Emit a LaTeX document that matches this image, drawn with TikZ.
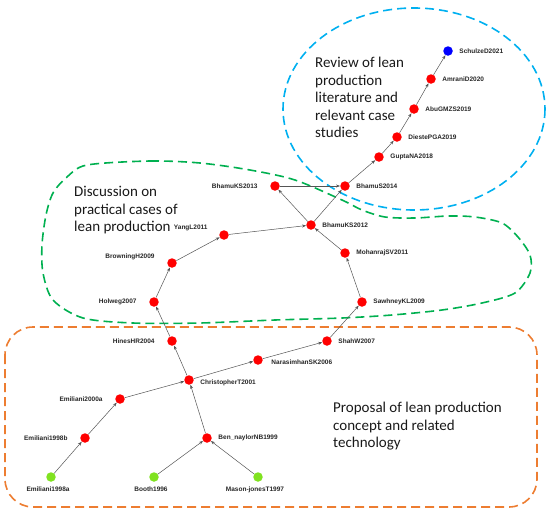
\documentclass[tikz,border=0pt]{standalone}
\usepackage{fontspec}
\setmainfont{Liberation Sans}
\newfontfamily\calibri{Carlito}
\usepackage{xcolor}
\usepackage{tikz}
\usetikzlibrary{arrows.meta}

\definecolor{zoneblue}{RGB}{0,176,240}
\definecolor{zonegreen}{RGB}{0,176,80}
\definecolor{zoneorange}{RGB}{237,125,49}
\definecolor{leafgreen}{RGB}{128,226,32}
\definecolor{edgegray}{RGB}{85,85,85}

\begin{document}
\begin{tikzpicture}[x=1pt, y=-1pt,
    dot/.style={circle, inner sep=0pt, minimum size=9.5pt},
    rnode/.style={dot, fill=red},
    gnode/.style={dot, fill=leafgreen},
    bnode/.style={dot, fill=blue},
    every label/.style={font=\fontsize{6.5}{7}\selectfont\bfseries, text=black!85},
    rlab/.style={label={[label distance=3pt]right:#1}},
    llab/.style={label={[label distance=9pt]left:#1}},
    blab/.style={label={[label distance=1pt, xshift=-3pt]below:#1}},
    edge/.style={draw=edgegray, line width=0.5pt, -{Stealth[length=4pt, width=3pt]}},
    zone/.style={line width=1.6pt, dash pattern=on 9pt off 5pt},
    zonetext/.style={font=\calibri\fontsize{15}{17.5}\selectfont, align=left, inner sep=0pt, anchor=north west, text=black!90}]
      \useasboundingbox (0,0) rectangle (550,515);

      % groups
      \draw[zone, zoneblue] (414,109) ellipse [x radius=131, y radius=101];
      \draw[zone, zonegreen] plot[smooth cycle] coordinates {
        (87,165) (150,161) (200,163) (250,170) (295,180) (342,200) (362,210)
        (385,217) (415,218) (448,216) (475,217) (502,223) (518,237) (530,255)
        (530,273) (515,293) (482,303) (442,310) (392,315) (342,318) (275,320)
        (200,323) (133,323) (83,318) (53,300) (43,273) (42,245) (46,215)
        (53,193) (67,177)};
      \draw[zone, zoneorange, rounded corners=28pt] (5,327) rectangle (537,507);

      \node[zonetext] (RV) at (315,57)  {Review of lean\\production\\literature and\\relevant case\\studies};
      \node[zonetext] (DC) at (74,186)  {Discussion on\\practical cases of\\lean production};
      \node[zonetext] (PR) at (333,402) {Proposal of lean production\\concept and related\\technology};

      % papers
      \node[bnode, rlab=SchulzeD2021]   (SD)   at (448, 51)  {};
      \node[rnode, rlab=AmraniD2020]    (AD)   at (431, 79)  {};
      \node[rnode, rlab=AbuGMZS2019]    (AG)   at (414,109)  {};
      \node[rnode, rlab=DiestePGA2019]  (DP)   at (397,137)  {};
      \node[rnode, rlab=GuptaNA2018]    (GN)   at (379,157)  {};
      \node[rnode, rlab=BhamuS2014]     (BS14) at (345,186)  {};
      \node[rnode, llab=BhamuKS2013]    (BK13) at (275,186)  {};
      \node[rnode, rlab=BhamuKS2012]    (BK12) at (311,225)  {};
      \node[rnode, label={[label distance=8pt, yshift=7pt]left:YangL2011}]     (YL) at (224,235) {};
      \node[rnode, rlab=MohanrajSV2011] (MS)   at (345,253)  {};
      \node[rnode, label={[label distance=9pt, yshift=6pt]left:BrowningH2009}] (BH) at (172,263) {};
      \node[rnode, rlab=SawhneyKL2009]  (SK)   at (362,302)  {};
      \node[rnode, llab=Holweg2007]     (HW)   at (154,302)  {};
      \node[rnode, rlab=ShahW2007]      (SW)   at (327,341)  {};
      \node[rnode, llab=HinesHR2004]    (HH)   at (172,341)  {};
      \node[rnode, label={[label distance=5pt, yshift=-2pt]right:NarasimhanSK2006}] (NS) at (258,360) {};
      \node[rnode, label={[label distance=3pt, yshift=-3pt]right:ChristopherT2001}] (CT) at (189,380) {};
      \node[rnode, llab=Emiliani2000a]  (E00)  at (120,399)  {};
      \node[rnode, llab=Emiliani1998b]  (E98b) at (85,438)   {};
      \node[rnode, rlab=Ben\_naylorNB1999] (BN) at (207,438)  {};
      \node[gnode, blab=Emiliani1998a]  (E98a) at (51,477)   {};
      \node[gnode, blab=Booth1996]      (BO)   at (154,477)  {};
      \node[gnode, blab=Mason-jonesT1997] (MJ) at (258,477)  {};

      % citations
      \draw[edge] (E98a) -- (E98b);
      \draw[edge] (E98b) -- (E00);
      \draw[edge] (E00)  -- (CT);
      \draw[edge] (BO)   -- (BN);
      \draw[edge] (MJ)   -- (BN);
      \draw[edge] (BN)   -- (CT);
      \draw[edge] (CT)   -- (HH);
      \draw[edge] (HH)   -- (HW);
      \draw[edge] (HW)   -- (BH);
      \draw[edge] (BH)   -- (YL);
      \draw[edge] (YL)   -- (BK12);
      \draw[edge] (CT)   -- (NS);
      \draw[edge] (NS)   -- (SW);
      \draw[edge] (SW)   -- (SK);
      \draw[edge] (SK)   -- (MS);
      \draw[edge] (MS)   -- (BK12);
      \draw[edge] (BK12) -- (BK13);
      \draw[edge] (BK13) -- (BS14);
      \draw[edge] (BK12) -- (BS14);
      \draw[edge] (BS14) -- (GN);
      \draw[edge] (GN)   -- (DP);
      \draw[edge] (DP)   -- (AG);
      \draw[edge] (AG)   -- (AD);
      \draw[edge] (AD)   -- (SD);
\end{tikzpicture}
\end{document}
